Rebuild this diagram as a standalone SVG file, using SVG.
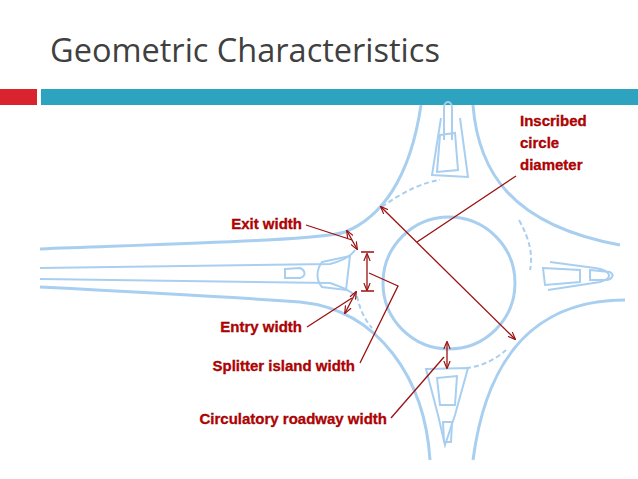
<svg xmlns="http://www.w3.org/2000/svg" width="638" height="479" viewBox="0 0 638 479">
<style>
.r{fill:none;stroke:#a9cff0;stroke-width:3}
.t{fill:none;stroke:#a9cff0;stroke-width:2}
.d{fill:none;stroke:#a9cff0;stroke-width:2;stroke-dasharray:5 3}
.l{fill:none;stroke:#9b1010;stroke-width:1.3}
.lab{font-family:"Liberation Sans",Arial,sans-serif;font-weight:bold;font-size:15px;fill:#c00000;stroke:#7a0000;stroke-width:0.3}
</style>
<defs>
<marker id="a" viewBox="0 0 10 10" refX="9" refY="5" markerWidth="6" markerHeight="6" orient="auto-start-reverse"><path d="M0,1 L10,5 L0,9" fill="none" stroke="#9b1010" stroke-width="1.5"/></marker>
</defs>
<rect width="638" height="479" fill="#fff"/>
<text x="50" y="62" font-family="'Open Sans','Liberation Sans',sans-serif" font-size="32.5" fill="#404040">Geometric Characteristics</text>
<rect x="0" y="89" width="37" height="16" fill="#d9232e"/>
<rect x="41" y="89" width="597" height="16" fill="#2ea3c0"/>
<g id="roads">
<path class="r" d="M40,249 C200,243 320,240 345,232 C380,218 410,180 421,105"/>
<path class="r" d="M473,105 C478,170 510,225 620,245"/>
<path class="r" d="M625,300 C560,300 490,330 473,460"/>
<path class="r" d="M430,460 C425,380 380,310 300,302 C200,295 100,290 40,287"/>
<path class="t" d="M40,268 L330,264 C345,260 352,255 355,250"/>
<path class="t" d="M40,279 L330,283 C345,288 352,292 355,296"/>
<path class="t" d="M322,262 L350,256 L346,290 L322,287 C316,280 316,270 322,262Z"/>
<path class="t" d="M285,269 L300,268 C306,271 306,276 300,278 L285,278Z"/>
<path class="t" d="M444,140 L444,108 C444,100 452,100 452,108 L452,140"/>
<path class="t" d="M441,118 L432,175 L468,177 L460,118"/>
<path class="t" d="M440,135 L455,133 L458,170 L437,172Z"/>
<path class="t" d="M543,268 L580,270 L580,282 L545,285Z M550,262 L595,268 C610,270 615,278 600,282 L548,290"/>
<path class="t" d="M590,270 L610,272 C615,275 612,279 607,280 L590,280Z"/>
<path class="t" d="M426,369 L468,368 L455,415 L445,445 L438,415 Z"/>
<path class="t" d="M437,378 L457,376 L455,405 L440,405 Z"/>
<path class="t" d="M443,422 L452,422 L451,442 L444,442 Z"/>
<circle class="r" cx="449" cy="283" r="66"/>
<path class="d" d="M382,207 C405,190 425,182 440,180"/>
<path class="d" d="M519,220 C530,240 533,255 530,270"/>
<path class="d" d="M466,368 C480,367 495,360 506,350"/>
<path class="d" d="M357,296 C360,310 365,320 372,328"/>
</g>
<g id="connectors">
<path class="l" marker-start="url(#a)" marker-end="url(#a)" d="M347,231 L357,249"/>
<path class="l" d="M306,225 L352,240"/>
<path class="l" marker-start="url(#a)" marker-end="url(#a)" d="M356,292 L345,313"/>
<path class="l" d="M307,327 L352,298"/>
<path class="l" marker-start="url(#a)" marker-end="url(#a)" d="M367,254 L367,290"/>
<path class="l" d="M361,252 L374,252 M361,291 L374,291"/>
<path class="l" d="M369,273 L398,286 L360,363"/>
<path class="l" marker-start="url(#a)" marker-end="url(#a)" d="M447,342 L447,368"/>
<path class="l" d="M391,418 L444,357"/>
<path class="l" marker-start="url(#a)" marker-end="url(#a)" d="M381,207 L515,339"/>
<path class="l" d="M516,176 L417,242"/>
</g>
<g id="labels">
<text class="lab" x="302" y="229" text-anchor="end">Exit width</text>
<text class="lab" x="302" y="332" text-anchor="end">Entry width</text>
<text class="lab" x="355" y="371" text-anchor="end">Splitter island width</text>
<text class="lab" x="387" y="424" text-anchor="end">Circulatory roadway width</text>
<text class="lab" x="520" y="126">Inscribed</text>
<text class="lab" x="520" y="148">circle</text>
<text class="lab" x="520" y="170">diameter</text>
</g>
</svg>
